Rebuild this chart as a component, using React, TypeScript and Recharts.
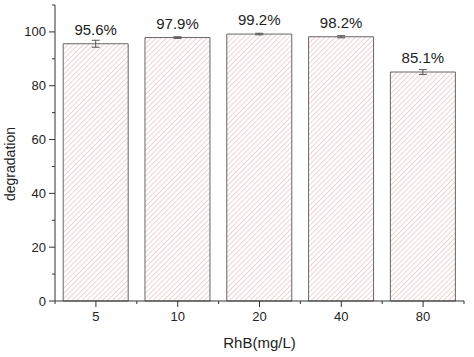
import * as React from "react";
import {
  BarChart,
  Bar,
  XAxis,
  YAxis,
  ErrorBar,
  LabelList,
} from "recharts";

const concentrations = ["5", "10", "20", "40", "80"];
const degradation = [95.6, 97.9, 99.2, 98.2, 85.1];
const errors = [1.3, 0.3, 0.3, 0.4, 0.9];
const yTicks = [0, 10, 20, 30, 40, 50, 60, 70, 80, 90, 100, 110];

const data = concentrations.map((c, i) => ({
  c,
  value: degradation[i],
  err: errors[i],
}));

const FONT = "Arial, 'Liberation Sans', sans-serif";
const AXIS = "#333";

function YTick(props: any) {
  const { x, y, payload } = props;
  const v = payload.value as number;
  const major = v % 20 === 0;
  return (
    <g>
      <line x1={x} x2={x - (major ? 6 : 3)} y1={y} y2={y} stroke={AXIS} strokeWidth={1} />
      {major && v <= 100 && (
        <text x={x - 9} y={y} dy={4.5} textAnchor="end" fontSize={13} fill="#222" fontFamily={FONT}>
          {v}
        </text>
      )}
    </g>
  );
}

function XTick(props: any) {
  const { x, y, payload, index } = props;
  const half = payload.offset ?? 41;
  return (
    <g>
      <line x1={x} x2={x} y1={y} y2={y + 6} stroke={AXIS} strokeWidth={1} />
      <line x1={x + half} x2={x + half} y1={y} y2={y + 3} stroke={AXIS} strokeWidth={1} />
      {index === 0 && (
        <line x1={x - half} x2={x - half} y1={y} y2={y + 3} stroke={AXIS} strokeWidth={1} />
      )}
      <text x={x} y={y + 20} textAnchor="middle" fontSize={13} fill="#222" fontFamily={FONT}>
        {payload.value}
      </text>
    </g>
  );
}

export default function App() {
  return (
    <div style={{ position: "absolute", left: 0, top: 0, width: 474, height: 357, background: "#fff" }}>
      <BarChart
        width={474}
        height={357}
        data={data}
        margin={{ top: 5, right: 10, left: 0, bottom: 0 }}
        barCategoryGap="10%"
      >
        <defs>
          <pattern id="hatch" width={3.6} height={3.6} patternUnits="userSpaceOnUse" patternTransform="rotate(45)">
            <rect width={3.6} height={3.6} fill="#fff" />
            <line x1={0} y1={0} x2={0} y2={3.6} stroke="#e3b8b8" strokeWidth={1.2} />
          </pattern>
        </defs>
        <XAxis
          dataKey="c"
          height={56}
          stroke={AXIS}
          tickSize={0}
          tickMargin={0}
          tickLine={false}
          tick={<XTick />}
          label={{
            value: "RhB(mg/L)",
            position: "insideBottom",
            offset: 9,
            fontSize: 15,
            fill: "#222",
            fontFamily: FONT,
          }}
        />
        <YAxis
          width={55}
          domain={[0, 110]}
          ticks={yTicks}
          interval={0}
          stroke={AXIS}
          tickSize={0}
          tickMargin={0}
          tickLine={false}
          tick={<YTick />}
          label={{
            value: "degradation",
            angle: -90,
            position: "insideLeft",
            offset: 10,
            dy: 48,
            fontSize: 14,
            fill: "#222",
            fontFamily: FONT,
          }}
        />
        <Bar
          dataKey="value"
          fill="url(#hatch)"
          stroke="#666"
          strokeWidth={1}
          isAnimationActive={false}
        >
          <ErrorBar dataKey="err" width={4} stroke="#555" strokeWidth={1} />
          <LabelList
            dataKey="value"
            position="top"
            offset={9}
            formatter={(v: any) => `${v}%`}
            style={{ fontSize: 15, fill: "#222", fontFamily: FONT }}
          />
        </Bar>
      </BarChart>
    </div>
  );
}
